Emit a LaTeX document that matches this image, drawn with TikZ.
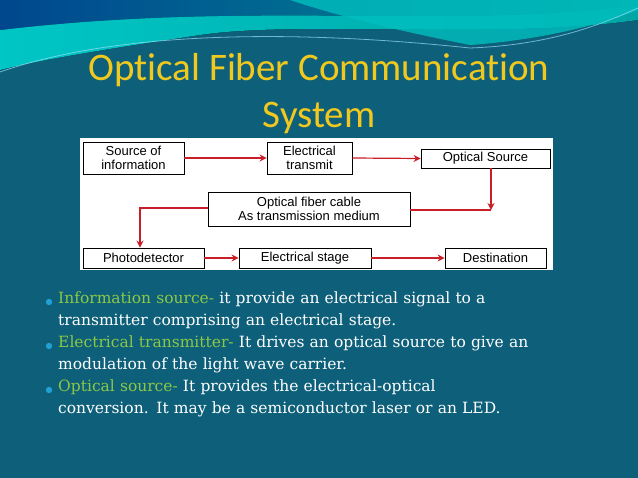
\documentclass[tikz,border=0pt]{standalone}
\usetikzlibrary{arrows.meta}
\usepackage{fontspec}
\setmainfont{DejaVu Serif}
\newfontfamily\titlefont[Ligatures=NoCommon]{Carlito}
\newfontfamily\boxfont{Liberation Sans}
\definecolor{bg}{RGB}{14,96,122}
\definecolor{ttl}{RGB}{240,200,30}
\definecolor{lbl}{RGB}{140,200,70}
\definecolor{arr}{RGB}{200,30,40}
\begin{document}
\begin{tikzpicture}[x=1pt,y=-1pt,
  blk/.style={draw=black,fill=white,line width=0.8pt,font=\boxfont\fontsize{13}{14}\selectfont,align=center,inner sep=0pt},
  link/.style={draw=arr,line width=1.2pt,-{Stealth[length=7pt,width=7pt]}},
  plain/.style={draw=arr,line width=1.2pt},
  bul/.style={anchor=north west,text=white,font=\fontsize{15.5}{22}\selectfont,align=left,inner sep=0pt,text width=570pt}]
\fill[bg] (0,0) rectangle (638,478);
\useasboundingbox (0,0) rectangle (638,478);
% top waves
\fill[left color=cyan!55!teal,right color=teal!70!cyan] (0,0) -- (638,0) -- (638,20) .. controls (500,40) and (300,20) .. (200,35) .. controls (100,50) and (40,60) .. (0,70) -- cycle;
\fill[left color=teal!60!blue,right color=cyan!50!teal,opacity=0.7] (0,0) -- (638,0) -- (638,5) .. controls (450,30) and (250,0) .. (0,30) -- cycle;
\fill[teal!50!cyan,opacity=0.8] (290,0) .. controls (350,20) and (420,35) .. (470,45) .. controls (540,40) and (600,25) .. (638,10) -- (638,0) -- cycle;
\draw[cyan!40,line width=0.8pt,opacity=0.7] (0,72) .. controls (120,30) and (300,30) .. (470,48) .. controls (550,45) and (600,25) .. (638,8);
\node[text=ttl,font=\titlefont\fontsize{39}{47}\selectfont,align=center] (title) at (319,94) {Optical Fiber Communication\\System};
% diagram panel
\fill[white] (80,138) rectangle (553,270);
\node[blk,minimum width=101pt,minimum height=32pt] (src) at (133.5,158) {Source of\\information};
\node[blk,minimum width=85pt,minimum height=32pt] (etx) at (309.5,158) {Electrical\\transmit};
\node[blk,minimum width=129pt,minimum height=19pt] (osrc) at (485.5,158.5) {Optical Source};
\node[blk,minimum width=202pt,minimum height=34pt] (fib) at (309,209) {Optical fiber cable\\As transmission medium};
\node[blk,minimum width=121pt,minimum height=20pt] (pd) at (143.5,258) {Photodetector};
\node[blk,minimum width=132pt,minimum height=20pt] (est) at (305,258) {Electrical stage};
\node[blk,minimum width=101pt,minimum height=20pt] (dst) at (495.5,258) {Destination};
\coordinate (c1) at (491,210);
\coordinate (c2) at (140,208);
\draw[link] (src.east |- 0,158) -- (etx.west |- 0,158);
\draw[link] (etx.east |- 0,158) -- (osrc.west);
\draw[link] (osrc.south -| c1) -- (c1);
\draw[plain] (fib.east |- c1) -- (c1);
\draw[link] (fib.west |- c2) -- (c2) -- (pd.north -| c2);
\draw[link] (pd) -- (est);
\draw[link] (est) -- (dst);
% bullets
\node[bul] (b1) at (58,292) {\textcolor{lbl}{Information source-} it provide an electrical signal to a\\transmitter comprising an electrical stage.};
\node[bul] (b2) at (58,336) {\textcolor{lbl}{Electrical transmitter-} It drives an optical source to give an\\modulation of the light wave carrier.};
\node[bul] (b3) at (58,380) {\textcolor{lbl}{Optical source-} It provides the electrical-optical\\conversion. It may be a semiconductor laser or an LED.};
\foreach \y in {302,346,390} \fill[cyan!70!teal] (49,\y) circle (3.2pt);
\end{tikzpicture}
\end{document}
